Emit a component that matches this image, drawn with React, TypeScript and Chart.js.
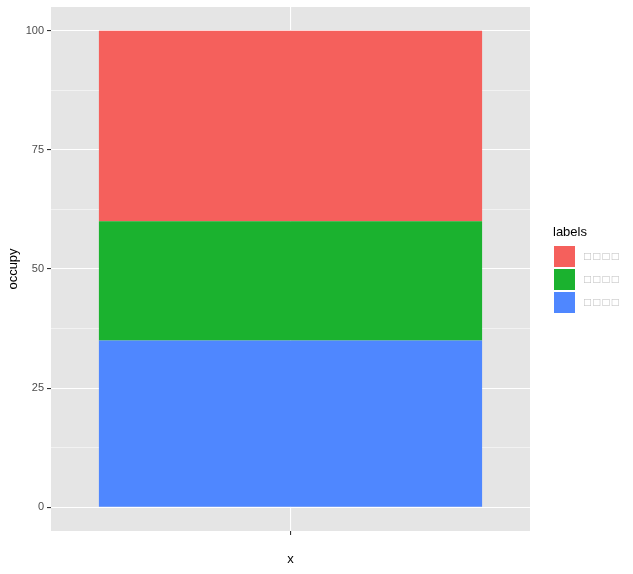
import { useEffect, useRef } from "react";
import { Chart, registerables } from "chart.js";

Chart.register(...registerables);

// single unnamed category on x
const categories = [""];
// stacked bottom -> top
const seriesLabels = ["□□□□", "□□□□", "□□□□"];
const seriesValues = [35, 25, 40];
const seriesColors = ["#4F87FF", "#1BB22F", "#F5605C"];
const yTicks = [0, 12.5, 25, 37.5, 50, 62.5, 75, 87.5, 100];
const yMajor = [0, 25, 50, 75, 100];

const panelBg = {
  id: "panelBg",
  beforeDraw(chart: Chart) {
    const { ctx, chartArea } = chart;
    ctx.save();
    ctx.fillStyle = "#E5E5E5";
    ctx.fillRect(chartArea.left, chartArea.top, chartArea.right - chartArea.left, chartArea.bottom - chartArea.top);
    ctx.restore();
  }
};

const sideLegend = {
  id: "sideLegend",
  afterDraw(chart: Chart) {
    const { ctx } = chart;
    const x = 554;
    let y = 246;
    ctx.save();
    ctx.fillStyle = "#000";
    ctx.font = "13px 'Liberation Sans', Arial, sans-serif";
    ctx.textBaseline = "middle";
    ctx.fillText("labels", 553, 232);
    // ggplot lists stacked groups top-first
    for (let i = seriesLabels.length - 1; i >= 0; i--) {
      ctx.fillStyle = seriesColors[i];
      ctx.fillRect(x, y, 21, 21);
      ctx.fillStyle = "#BDBDBD";
      ctx.font = "12px 'Liberation Sans', Arial, sans-serif";
      (ctx as any).letterSpacing = "2px";
      ctx.fillText(seriesLabels[i], 584, y + 11);
      (ctx as any).letterSpacing = "0px";
      y += 23;
    }
    ctx.restore();
  }
};

export default function App() {
  const canvasRef = useRef<HTMLCanvasElement>(null);

  useEffect(() => {
    document.body.style.margin = "0";
    if (!canvasRef.current) return;
    const font = "'Liberation Sans', Arial, sans-serif";

    const chart = new Chart(canvasRef.current, {
      type: "bar",
      data: {
        labels: categories,
        datasets: seriesValues.map((v, i) => ({
          label: seriesLabels[i],
          data: [v],
          backgroundColor: seriesColors[i],
          borderWidth: 0,
          barPercentage: 0.8,
          categoryPercentage: 1
        }))
      },
      options: {
        responsive: false,
        animation: false,
        layout: { padding: { top: 7, right: 103, left: 0, bottom: 0 } },
        plugins: {
          legend: { display: false },
          tooltip: { enabled: false }
        },
        scales: {
          x: {
            stacked: true,
            offset: true,
            border: { display: false },
            grid: {
              offset: false,
              color: "#FFFFFF",
              lineWidth: 1.1,
              tickColor: "#333333",
              tickLength: 4
            },
            ticks: { color: "#4D4D4D", font: { family: font, size: 11 } },
            title: {
              display: true,
              text: "x",
              color: "#000",
              font: { family: font, size: 13 },
              padding: { top: 0, bottom: 7 }
            },
            afterFit: (scale: any) => {
              scale.height = 43;
              scale.paddingLeft = 0;
              scale.paddingRight = 0;
            }
          },
          y: {
            stacked: true,
            min: -5,
            max: 105,
            border: { display: false },
            afterBuildTicks: (scale: any) => {
              scale.ticks = yTicks.map((v) => ({ value: v }));
            },
            grid: {
              color: "#FFFFFF",
              lineWidth: (c: any) => (yMajor.includes(c.tick?.value) ? 1.1 : 0.5),
              tickColor: (c: any) => (yMajor.includes(c.tick?.value) ? "#333333" : "rgba(0,0,0,0)"),
              tickLength: 4
            },
            ticks: {
              color: "#4D4D4D",
              padding: 3,
              font: { family: font, size: 11 },
              callback: (v: any) => (yMajor.includes(Number(v)) ? String(v) : "")
            },
            title: {
              display: true,
              text: "occupy",
              color: "#000",
              font: { family: font, size: 13 },
              padding: { top: 6, bottom: 0 }
            },
            afterFit: (scale: any) => {
              scale.width = 51;
              scale.paddingTop = 0;
              scale.paddingBottom = 0;
            }
          }
        }
      },
      plugins: [panelBg, sideLegend]
    });

    return () => {
      chart.destroy();
    };
  }, []);

  return <canvas ref={canvasRef} width={633} height={574} />;
}
